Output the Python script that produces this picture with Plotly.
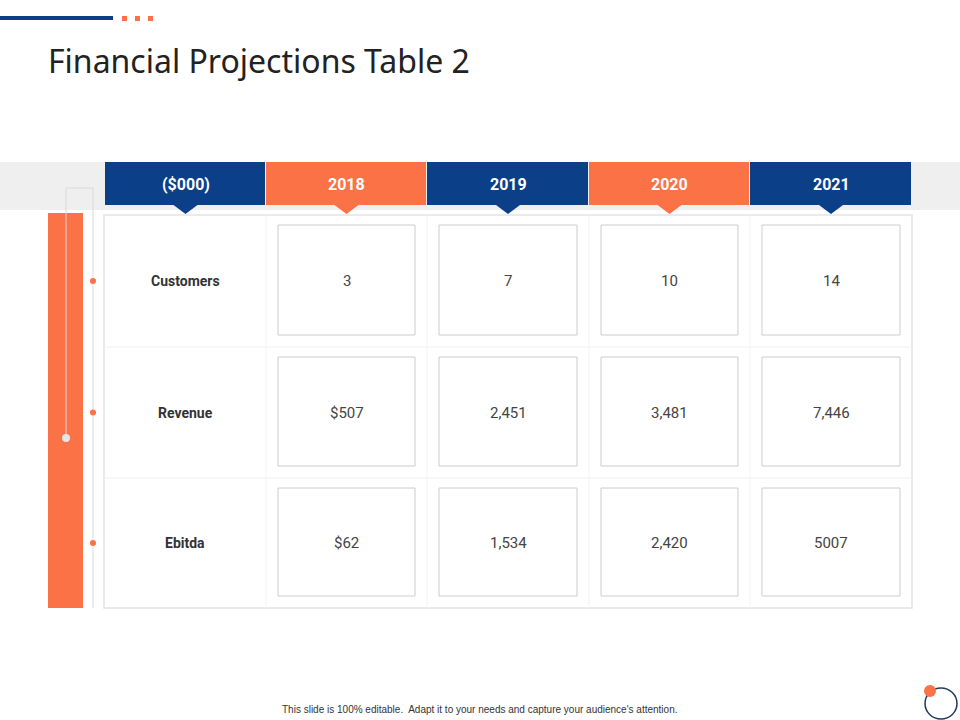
import plotly.graph_objects as go

headers = ["($000)", "2018", "2019", "2020", "2021"]
rows = ["Customers", "Revenue", "Ebitda"]
values = {
    "Customers": ["3", "7", "10", "14"],
    "Revenue": ["$507", "2,451", "3,481", "7,446"],
    "Ebitda": ["$62", "1,534", "2,420", "5007"],
}

NAVY = "#0b3f87"
ORANGE = "#fb7246"
FONT = "Roboto"

fig = go.Figure()
shapes = []
ann = []

def rect(x0, y0, x1, y1, fill=None, line=None, lw=1):
    shapes.append(dict(type="rect", x0=x0, y0=y0, x1=x1, y1=y1, xref="x", yref="y",
                       fillcolor=fill if fill else "rgba(0,0,0,0)",
                       line=dict(color=line if line else "rgba(0,0,0,0)", width=lw if line else 0),
                       layer="below"))

def line(x0, y0, x1, y1, color, w=1):
    shapes.append(dict(type="line", x0=x0, y0=y0, x1=x1, y1=y1, xref="x", yref="y",
                       line=dict(color=color, width=w)))

# top decoration
rect(0, 16, 113, 20, NAVY)
for x in (122, 135, 148):
    rect(x, 16, x + 5, 21, ORANGE)

# header band
rect(0, 162, 960, 210, "#efefef")
col_edges = [105, 266, 427, 589, 750, 912]
for i, h in enumerate(headers):
    x0, x1 = col_edges[i], col_edges[i + 1]
    c = NAVY if i % 2 == 0 else ORANGE
    rect(x0, 162, x1 - 1, 205, c)
    xm = (x0 + x1) / 2
    shapes.append(dict(type="path", path=f"M {xm-12} 205 L {xm+12} 205 L {xm} 214 Z",
                       xref="x", yref="y", fillcolor=c, line=dict(width=0)))
    ann.append(dict(x=xm, y=184, text=f"<b>{h}</b>", showarrow=False,
                    font=dict(family=FONT, size=16, color="white")))

# left decorations
rect(48, 213, 83, 608, ORANGE)
line(66, 188, 66, 438, "#d9d9d9", 1)
line(66, 188, 93, 188, "#d9d9d9", 1)
line(93, 188, 93, 608, "#d9d9d9", 1)
shapes.append(dict(type="circle", x0=62, y0=434, x1=70, y1=442, xref="x", yref="y",
                   fillcolor="#e6e6e6", line=dict(width=0)))

# table
rect(104, 215, 912, 608, "white", "#e3e3e3", 1.5)
row_edges = [215, 347, 478, 608]
for r in (347, 478):
    line(104, r, 912, r, "#f0f0f0", 1)
for c in col_edges[1:-1]:
    line(c, 215, c, 608, "#f3f3f3", 1)

for j, name in enumerate(rows):
    y0, y1 = row_edges[j], row_edges[j + 1]
    ym = (y0 + y1) / 2
    shapes.append(dict(type="circle", x0=90, y0=ym - 3, x1=96, y1=ym + 3, xref="x", yref="y",
                       fillcolor=ORANGE, line=dict(width=0)))
    ann.append(dict(x=185, y=ym, text=f"<b>{name}</b>", showarrow=False,
                    font=dict(family=FONT, size=14, color="#333333")))
    for i, v in enumerate(values[name]):
        x0, x1 = col_edges[i + 1], col_edges[i + 2]
        rect(x0 + 12, y0 + 10, x1 - 12, y1 - 12, "white", "#cccccc", 1)
        ann.append(dict(x=(x0 + x1) / 2, y=ym, text=v, showarrow=False,
                        font=dict(family=FONT, size=15, color="#444444")))

# title & footer
ann.append(dict(x=46, y=60, text="Financial Projections Table 2", showarrow=False,
                xanchor="left", font=dict(family="Noto Sans", size=32, color="#222222")))
ann.append(dict(x=480, y=709, text="This slide is 100% editable.  Adapt it to your needs and capture your audience's attention.",
                showarrow=False, font=dict(family="Liberation Sans", size=10, color="#333333")))

shapes.append(dict(type="circle", x0=925, y0=688, x1=957, y1=719, xref="x", yref="y",
                   line=dict(color="#1f3a5f", width=1.5)))
shapes.append(dict(type="circle", x0=924, y0=685, x1=936, y1=697, xref="x", yref="y",
                   fillcolor=ORANGE, line=dict(width=0)))

fig.update_layout(width=960, height=720, margin=dict(l=0, r=0, t=0, b=0),
                  plot_bgcolor="white", paper_bgcolor="white", shapes=shapes, annotations=ann,
                  xaxis=dict(range=[0, 960], visible=False, fixedrange=True),
                  yaxis=dict(range=[720, 0], visible=False, fixedrange=True),
                  showlegend=False)
fig.write_html("out.html", config={"displayModeBar": False},
               post_script="document.body.style.margin='0';document.body.style.overflow='hidden';")
